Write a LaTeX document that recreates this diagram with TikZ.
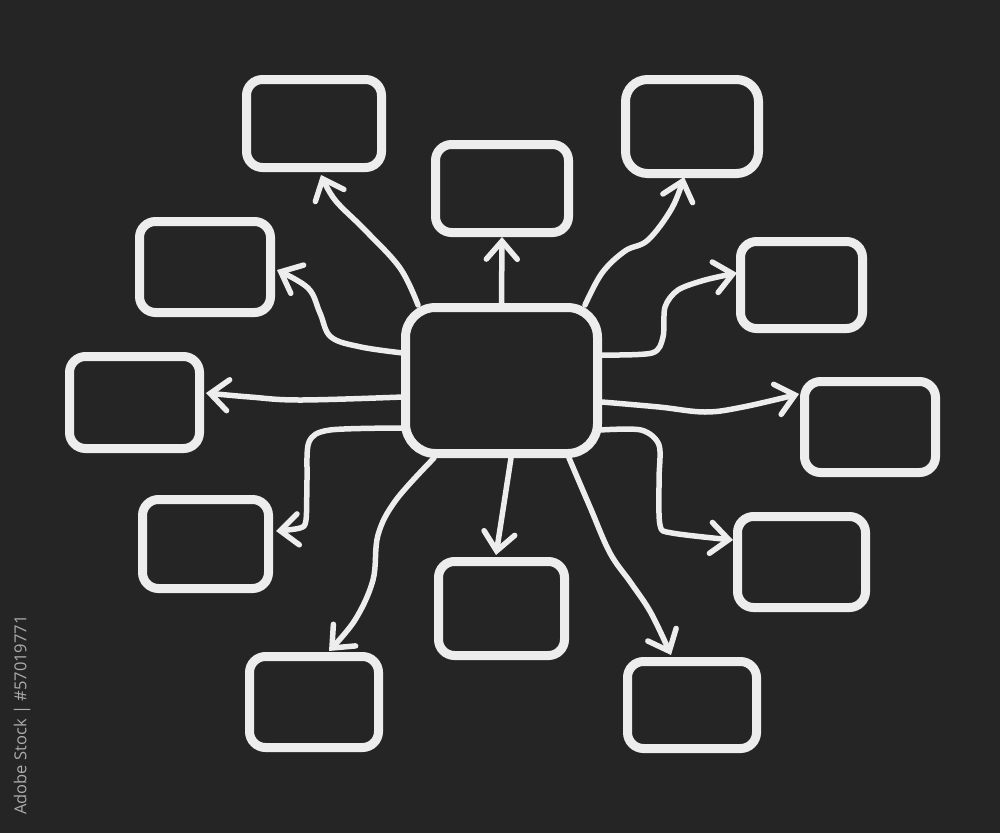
\documentclass[tikz,border=0pt]{standalone}
\usepackage{fontspec}
\newfontfamily\stockfont{Open Sans}
\usetikzlibrary{arrows.meta,calc}
\definecolor{board}{HTML}{252525}
\definecolor{chalk}{HTML}{EDEDED}
\definecolor{mark}{HTML}{ABABAB}
\tikzset{
  box/.style={draw=chalk, line width=9pt, rounded corners=16pt, inner sep=0pt},
  arr/.style={draw=chalk, line width=5.5pt, line cap=round, line join=round,
    -{Straight Barb[length=18pt 0, width=31pt 0, line cap=round]}},
}
\begin{document}
\begin{tikzpicture}[x=1pt,y=-1pt]
\fill[board] (0,0) rectangle (1000,833);
\useasboundingbox (0,0) rectangle (1000,833);
% boxes
\node[box, rounded corners=30pt, minimum width=192pt, minimum height=146pt] (c) at (501.5,380.5) {};
\node[box, minimum width=135pt, minimum height=88pt] (tl) at (314,123.5) {};
\node[box, minimum width=133pt, minimum height=88pt] (tc) at (502,188.5) {};
\node[box, rounded corners=22pt, minimum width=133pt, minimum height=94pt] (tr) at (692,126.5) {};
\node[box, minimum width=131pt, minimum height=91pt] (lu) at (205,267) {};
\node[box, minimum width=122pt, minimum height=87pt] (ru) at (801.5,285) {};
\node[box, minimum width=130pt, minimum height=92pt] (lm) at (134.5,402.5) {};
\node[box, minimum width=131pt, minimum height=91pt] (rm) at (870,427) {};
\node[box, minimum width=126pt, minimum height=89pt] (ll) at (205.5,544) {};
\node[box, minimum width=126pt, minimum height=94pt] (bc) at (501.5,608.5) {};
\node[box, minimum width=128pt, minimum height=91pt] (rl) at (801.5,562) {};
\node[box, minimum width=129pt, minimum height=91pt] (bl) at (314,702) {};
\node[box, minimum width=129pt, minimum height=87pt] (br) at (692,705) {};
% connector ends
\coordinate (s1) at (418,305); \coordinate (e1) at (321,175);
\coordinate (s3) at (585,305); \coordinate (e3) at (684,177);
\coordinate (s4) at (403,353); \coordinate (e4) at (277,270);
\coordinate (s5) at (602,355); \coordinate (e5) at (737,273);
\coordinate (s6) at (403,397); \coordinate (e6) at (206,393);
\coordinate (s7) at (602,402); \coordinate (e7) at (799,394);
\coordinate (s8) at (405,428); \coordinate (e8) at (276,531);
\coordinate (s9) at (600,430); \coordinate (e9) at (733,540);
\coordinate (s10) at (511,458); \coordinate (e10) at (496,555);
\coordinate (s11) at (434,458); \coordinate (e11) at (329,651);
\coordinate (s12) at (569,458); \coordinate (e12) at (671,655);
% connectors
\draw[arr] (c.north) -- (tc.south);
\draw[arr] plot[smooth, tension=0.6] coordinates {(s1) (400,268) (365,230) (335,200) (e1)};
\draw[arr] plot[smooth, tension=0.6] coordinates {(s3) (602,273) (625,251) (648,240) (672,208) (e3)};
\draw[arr] plot[smooth, tension=0.6] coordinates {(s4) (361,347) (331,337) (320,313) (308,288) (e4)};
\draw[arr] plot[smooth, tension=0.5] coordinates {(s5) (652,353) (663,337) (665,307) (678,290) (705,280) (e5)};
\draw[arr] plot[smooth, tension=0.6] coordinates {(s6) (300,400) (250,397) (e6)};
\draw[arr] plot[smooth, tension=0.6] coordinates {(s7) (659,407) (705,412) (743,407) (e7)};
\draw[arr] plot[smooth, tension=0.5] coordinates {(s8) (330,430) (309,442) (307,480) (306,520) (300,528) (e8)};
\draw[arr] plot[smooth, tension=0.5] coordinates {(s9) (641,430) (659,445) (659,480) (660,525) (672,533) (e9)};
\draw[arr] (s10) -- (e10);
\draw[arr] plot[smooth, tension=0.6] coordinates {(s11) (396,500) (378,535) (373,580) (355,620) (e11)};
\draw[arr] plot[smooth, tension=0.6] coordinates {(s12) (590,507) (610,553) (631,583) (651,613) (e12)};
% stock mark
\node[rotate=90, text=mark, font=\stockfont\fontsize{16.5}{18}\selectfont, inner sep=0pt] (id) at (22,715) {Adobe Stock | \#57019771};
\end{tikzpicture}
\end{document}
